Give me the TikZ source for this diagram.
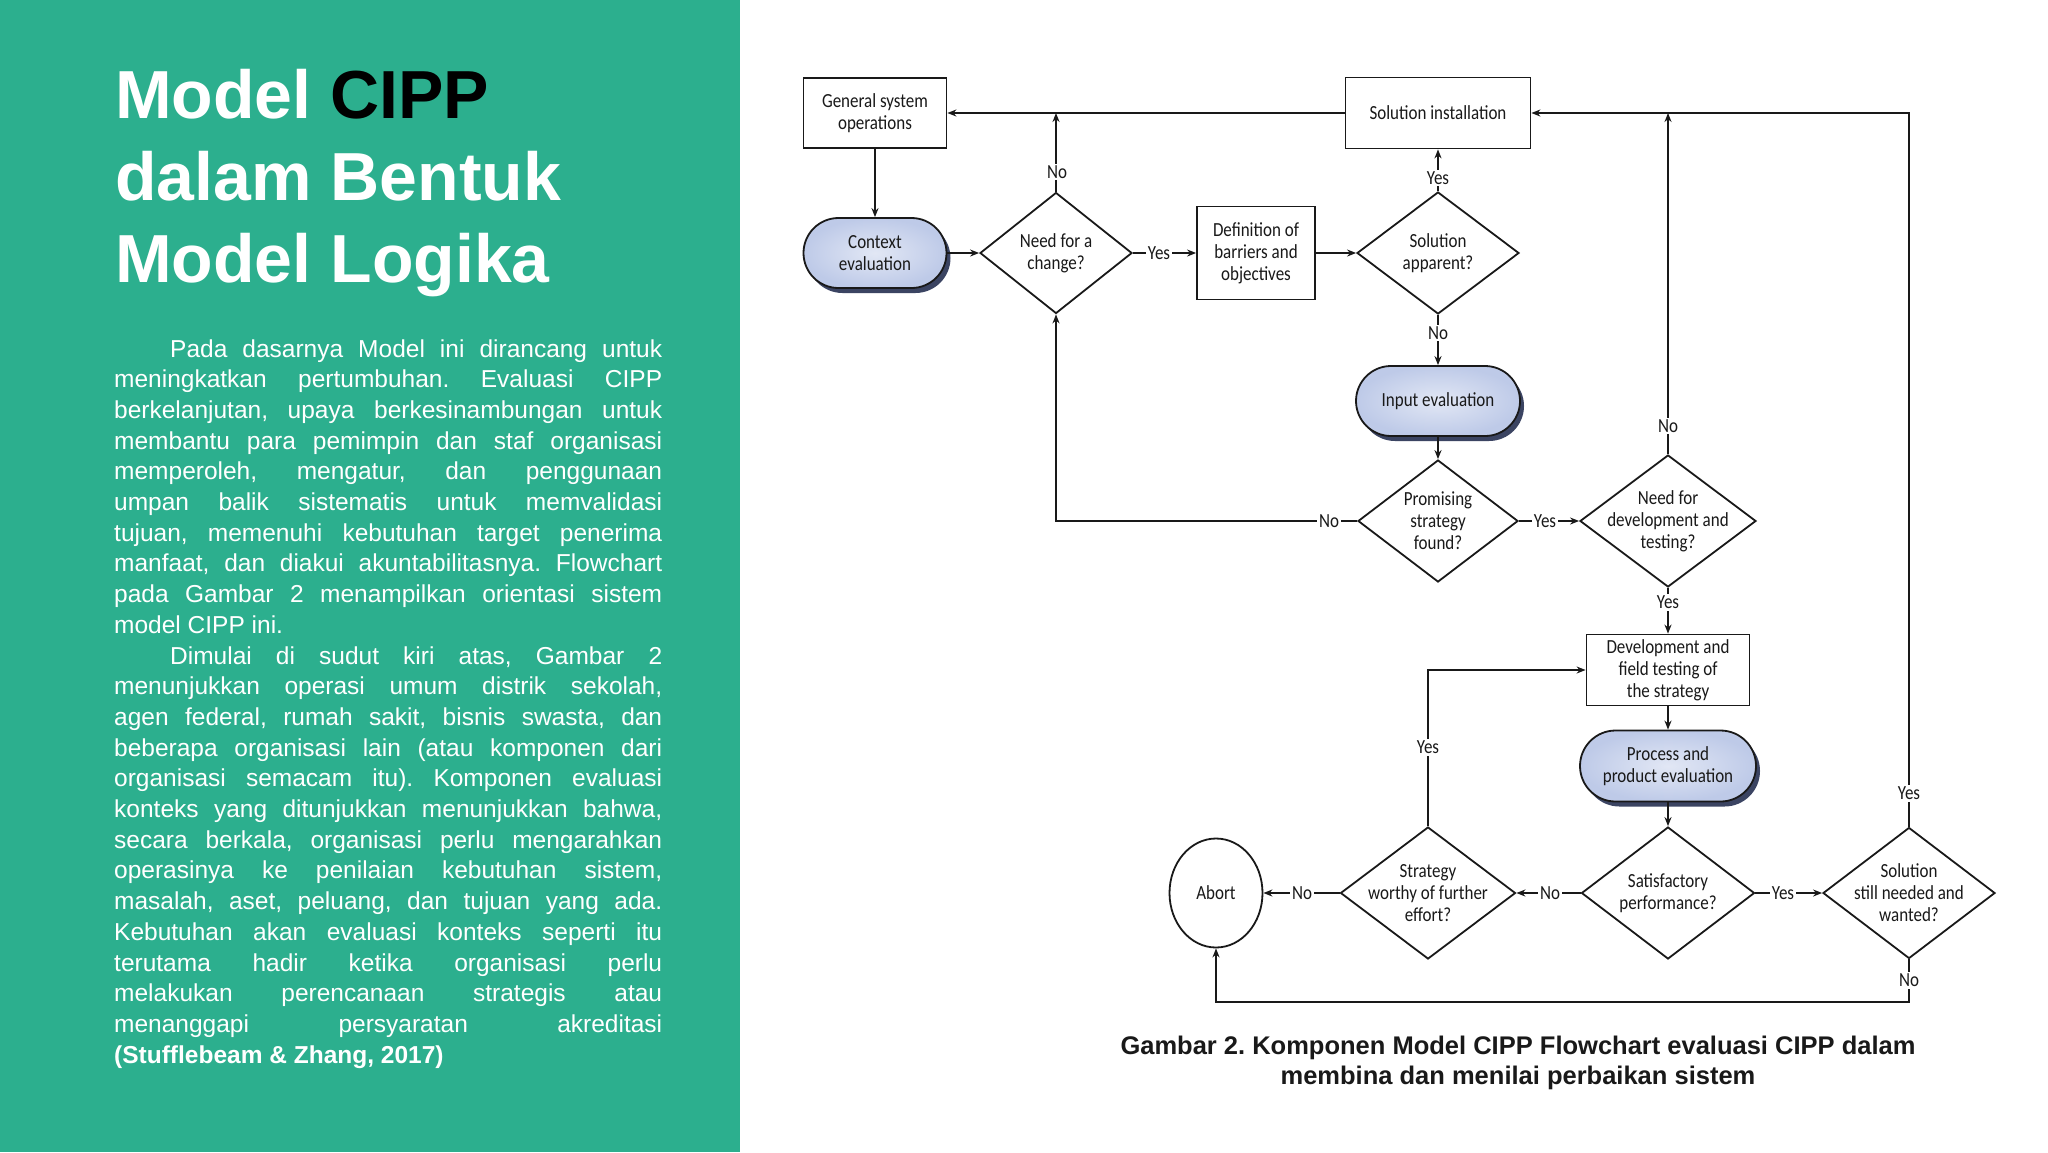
\documentclass[tikz,border=0pt]{standalone}
\usepackage{fontspec}
\setmainfont{Liberation Sans}
\newfontfamily\fcf[FakeStretch=0.85]{Carlito}
\usetikzlibrary{shapes.geometric,shapes.misc,arrows.meta,shadows}
\definecolor{panel}{RGB}{44,175,142}
\definecolor{stadfill}{RGB}{190,202,232}
\definecolor{stadshadow}{RGB}{38,48,82}
\definecolor{ink}{RGB}{25,25,25}
\newcommand\jline[1]{\hbox to 548pt{#1}}
\newcommand\nline[1]{\hbox{#1}}
\frenchspacing
\begin{document}
\begin{tikzpicture}[x=1pt,y=-1pt,
  fc/.style={font=\fcf\fontsize{20}{22}\selectfont, text=ink},
  box/.style={draw=ink, line width=1.8pt, fill=white, inner sep=0pt, align=center, fc},
  stad/.style={rounded rectangle, draw=ink, line width=1.8pt, inner sep=0pt, align=center, fc,
    inner color=white!55!stadfill, outer color=stadfill,
    drop shadow={shadow xshift=4pt, shadow yshift=-5pt, fill=stadshadow, opacity=0.9}},
  dia/.style={diamond, draw=ink, line width=1.8pt, fill=white, inner sep=0pt},
  dlab/.style={align=center, fc},
  lab/.style={fill=white, inner sep=2pt, fc},
  arr/.style={draw=ink, line width=1.8pt, -{Stealth[length=9pt,width=7pt]}},
  title/.style={anchor=base west, inner sep=0pt, text=white, font=\bfseries\fontsize{68}{82}\selectfont}
]
\useasboundingbox (0,0) rectangle (2048,1152);
\fill[white] (0,0) rectangle (2048,1152);
\fill[panel] (0,0) rectangle (740,1152);

% ---- left panel text ----
\node[title] (t1) at (115,118) {Model \textcolor{black}{CIPP}};
\node[title] (t2) at (115,200) {dalam Bentuk};
\node[title] (t3) at (115,282) {Model Logika};

\node[anchor=base west, inner sep=0pt, text=white] (body) at (114,357) {\vtop{\fontsize{24.5}{30.7}\selectfont\frenchspacing
\jline{\kern56pt Pada dasarnya Model ini dirancang untuk}
\jline{meningkatkan pertumbuhan. Evaluasi CIPP}
\jline{berkelanjutan, upaya berkesinambungan untuk}
\jline{membantu para pemimpin dan staf organisasi}
\jline{memperoleh, mengatur, dan penggunaan}
\jline{umpan balik sistematis untuk memvalidasi}
\jline{tujuan, memenuhi kebutuhan target penerima}
\jline{manfaat, dan diakui akuntabilitasnya. Flowchart}
\jline{pada Gambar 2 menampilkan orientasi sistem}
\nline{model CIPP ini.}
\jline{\kern56pt Dimulai di sudut kiri atas, Gambar 2}
\jline{menunjukkan operasi umum distrik sekolah,}
\jline{agen federal, rumah sakit, bisnis swasta, dan}
\jline{beberapa organisasi lain (atau komponen dari}
\jline{organisasi semacam itu). Komponen evaluasi}
\jline{konteks yang ditunjukkan menunjukkan bahwa,}
\jline{secara berkala, organisasi perlu mengarahkan}
\jline{operasinya ke penilaian kebutuhan sistem,}
\jline{masalah, aset, peluang, dan tujuan yang ada.}
\jline{Kebutuhan akan evaluasi konteks seperti itu}
\jline{terutama hadir ketika organisasi perlu}
\jline{melakukan perencanaan strategis atau}
\jline{menanggapi persyaratan akreditasi}
\nline{\bfseries (Stufflebeam \& Zhang, 2017)}}};

% ---- flowchart nodes ----
\node[box, minimum width=143pt, minimum height=70pt] (gso) at (875,113) {General system\\operations};
\node[box, minimum width=185pt, minimum height=71pt] (solinst) at (1438,113) {Solution installation};
\node[stad, minimum width=143pt, minimum height=70pt] (ctx) at (875,253) {Context\\evaluation};
\node[dia, minimum width=152pt, minimum height=121pt, label={[dlab]center:{Need for a\\change?}}] (need) at (1056,253) {};
\node[box, minimum width=118pt, minimum height=93pt] (defn) at (1256,253) {Definition of\\barriers and\\objectives};
\node[dia, minimum width=162pt, minimum height=122pt, label={[dlab]center:{Solution\\apparent?}}] (solapp) at (1438,253) {};
\node[stad, minimum width=164pt, minimum height=70pt] (inp) at (1438,401) {Input evaluation};
\node[dia, minimum width=160pt, minimum height=122pt, label={[dlab]center:{Promising\\strategy\\found?}}] (prom) at (1438,521) {};
\node[dia, minimum width=176pt, minimum height=132pt, label={[dlab]center:{Need for\\development and\\testing?}}] (ndev) at (1668,521) {};
\node[box, minimum width=163pt, minimum height=71pt] (dev) at (1668,670) {Development and\\field testing of\\the strategy};
\node[stad, minimum width=176pt, minimum height=71pt] (proc) at (1668,766) {Process and\\product evaluation};
\node[dia, minimum width=173pt, minimum height=132pt, label={[dlab]center:{Satisfactory\\performance?}}] (sat) at (1668,893) {};
\node[dia, minimum width=175pt, minimum height=132pt, label={[dlab]center:{Strategy\\worthy of further\\effort?}}] (strat) at (1428,893) {};
\node[ellipse, draw=ink, line width=1.8pt, fill=white, inner sep=0pt, minimum width=93pt, minimum height=109pt, fc] (abort) at (1216,893) {Abort};
\node[dia, minimum width=172pt, minimum height=131pt, label={[dlab]center:{Solution\\still needed and\\wanted?}}] (still) at (1909,893) {};

% ---- connectors ----
\draw[arr] (gso.south) -- (ctx.north);
\draw[arr] (solinst.west) -- (gso.east);
\draw[arr] (need.north) -- (need.north |- gso.east);
\draw[arr] (ctx.east) -- (need.west);
\draw[arr] (need.east) -- (defn.west);
\draw[arr] (defn.east) -- (solapp.west);
\draw[arr] (solapp.north) -- (solinst.south);
\draw[arr] (solapp.south) -- (inp.north);
\draw[arr] (inp.south) -- (prom.north);
\draw[arr] (prom.west) -| (need.south);
\draw[arr] (prom.east) -- (ndev.west);
\draw[arr] (ndev.north) -- (ndev.north |- solinst.east);
\draw[arr] (ndev.south) -- (dev.north);
\draw[arr] (dev.south) -- (proc.north);
\draw[arr] (proc.south) -- (sat.north);
\draw[arr] (sat.west) -- (strat.east);
\draw[arr] (strat.west) -- (abort.east);
\draw[arr] (strat.north) |- (dev.west);
\draw[arr] (sat.east) -- (still.west);
\draw[arr] (still.north) |- (solinst.east);
\coordinate (bot) at (1909,1002);
\draw[arr] (still.south) -- (bot) -| (abort.south);

% ---- connector labels ----
\node[lab] (l1) at (1057,172) {No};
\node[lab] (l2) at (1159,253) {Yes};
\node[lab] (l3) at (1438,178) {Yes};
\node[lab] (l4) at (1438,333) {No};
\node[lab] (l5) at (1329,521) {No};
\node[lab] (l6) at (1545,521) {Yes};
\node[lab] (l7) at (1668,426) {No};
\node[lab] (l8) at (1668,602) {Yes};
\node[lab] (l9) at (1428,747) {Yes};
\node[lab] (l10) at (1302,893) {No};
\node[lab] (l11) at (1550,893) {No};
\node[lab] (l12) at (1783,893) {Yes};
\node[lab] (l13) at (1909,793) {Yes};
\node[lab] (l14) at (1909,980) {No};

% ---- caption ----
\node[anchor=base, inner sep=0pt, text=ink, font=\bfseries\fontsize{25.5}{30}\selectfont] (cap1) at (1518,1054) {Gambar 2. Komponen Model CIPP Flowchart evaluasi CIPP dalam};
\node[anchor=base, inner sep=0pt, text=ink, font=\bfseries\fontsize{25.5}{30}\selectfont] (cap2) at (1518,1084) {membina dan menilai perbaikan sistem};
\end{tikzpicture}
\end{document}
